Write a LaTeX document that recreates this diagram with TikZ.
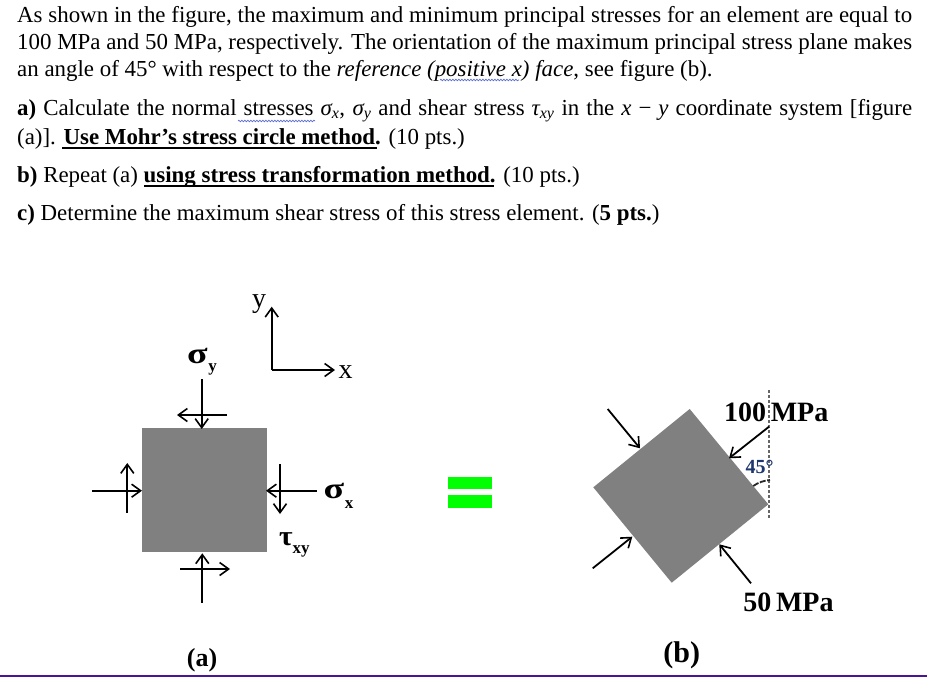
\documentclass[tikz,border=0pt]{standalone}
\usepackage{fontspec}
\setmainfont{Liberation Serif}
\usetikzlibrary{arrows.meta,decorations.pathmorphing}
\definecolor{boxgray}{RGB}{128,128,128}
\definecolor{degblue}{RGB}{30,55,110}
\definecolor{eqgreen}{RGB}{0,255,0}
\definecolor{edgeline}{RGB}{75,20,150}
\definecolor{squig}{RGB}{90,110,210}
\tikzset{
  x=1pt,y=-1pt,
  para/.style={anchor=base west,inner sep=0pt,font=\fontsize{22.9}{25}\selectfont},
  fig/.style={inner sep=0pt,font=\bfseries\fontsize{28}{30}\selectfont},
  lab/.style={inner sep=0pt,font=\fontsize{28}{30}\selectfont},
  sub/.style={inner sep=0pt,font=\bfseries\fontsize{17}{19}\selectfont},
  force/.style={-{Straight Barb[length=9pt,width=13pt,line width=1.6pt]},line width=1.8pt,black},
  rule/.style={line width=1.8pt,black},
  wavy/.style={squig,line width=.7pt,decorate,decoration={snake,amplitude=.8pt,segment length=3pt}},
}
\newcommand{\jl}[1]{\hbox to 895pt{#1}}
\begin{document}
\begin{tikzpicture}
\useasboundingbox (0,0) rectangle (927,677);
\fill[white] (0,0) rectangle (927,677);
\node[para] (l1) at (17,23) {\jl{As shown in the figure, the maximum and minimum principal stresses for an element are equal to}};
\node[para] (l2) at (17,50) {\jl{100 MPa and 50 MPa, respectively. The orientation of the maximum principal stress plane makes}};
\node[para] (l3) at (17,77) {an angle of 45° with respect to the {\itshape reference (positive x) face}, see figure (b).};
\node[para] (l4) at (17,115) {\jl{\textbf{a)} Calculate the normal stresses {\itshape σ\textsubscript{x}}, {\itshape σ\textsubscript{y}} and shear stress {\itshape τ\textsubscript{xy}} in the {\itshape x} − {\itshape y} coordinate system [figure}};
\node[para] (l5) at (17,144) {(a)]. \textbf{Use Mohr’s stress circle method.} (10 pts.)};
\node[para] (l6) at (17,182) {\textbf{b)} Repeat (a) \textbf{using stress transformation method.} (10 pts.)};
\node[para] (l7) at (17,220) {\textbf{c)} Determine the maximum shear stress of this stress element. (\textbf{5 pts.})};
\draw[rule] (62,148) -- (377,148);
\draw[rule] (144,186) -- (494,186);
\draw[wavy] (440,80) -- (519,80);
\draw[wavy] (238,121) -- (315,121);

% element (a)
\node[fill=boxgray,minimum width=125pt,minimum height=124pt,inner sep=0pt] (elemA) at (204.8,490.3) {};
\coordinate (syS) at (201.7,379); \coordinate (syE) at (201.7,429);
\coordinate (tyS) at (227,415); \coordinate (tyE) at (177,415);
\coordinate (sxlS) at (92,490.7); \coordinate (sxlE) at (142,490.7);
\coordinate (tlS) at (127.3,512.7); \coordinate (tlE) at (127.3,463);
\coordinate (sxrS) at (316.7,490.7); \coordinate (sxrE) at (266,490.7);
\coordinate (trS) at (280,464); \coordinate (trE) at (280,514);
\coordinate (sybS) at (202.3,602.7); \coordinate (sybE) at (202.3,553.3);
\coordinate (tbS) at (180,569); \coordinate (tbE) at (230,569);
\foreach \a/\b in {syS/syE,tyS/tyE,sxlS/sxlE,tlS/tlE,sxrS/sxrE,trS/trE,sybS/sybE,tbS/tbE}
  \draw[force] (\a) -- (\b);
% axes
\coordinate (org) at (271.7,370);
\coordinate (axY) at (271.7,306.7);
\coordinate (axX) at (335,370);
\draw[force] (org) -- (axY);
\draw[force] (org) -- (axX);
\node[lab] (ylab) at (259,304) {y};
\node[lab] (xlab) at (345.7,372) {x};
\node[fig] (sy) at (197.5,356) {\scalebox{1.35}[1.05]{σ}};
\node[sub] (syb) at (212.5,369) {y};
\node[fig] (sx) at (334,491) {\scalebox{1.35}[1.05]{σ}};
\node[sub] (sxb) at (349,505) {x};
\node[fig] (tau) at (286,539) {\scalebox{1.05}[1]{τ}};
\node[sub] (tauxy) at (301,551) {xy};
\node[fig,font=\bfseries\fontsize{26}{28}\selectfont] (capa) at (202,660.5) {(a)};

% equals
\fill[eqgreen] (447.7,476.7) rectangle (492.3,489.3);
\fill[eqgreen] (447.7,495) rectangle (492.3,507.7);

% element (b)
\coordinate (c1) at (689.7,409); \coordinate (c2) at (768.3,504.3);
\coordinate (c3) at (671.7,582.7); \coordinate (c4) at (593.3,487.3);
\fill[boxgray] (c1) -- (c2) -- (c3) -- (c4) -- cycle;
\coordinate (dT) at (769,390); \coordinate (dB) at (769,518.3);
\draw[black!60,line width=1.2pt,dash pattern=on 3pt off 2pt] (dT) -- (dB);
\coordinate (a1S) at (607.7,409); \coordinate (a1E) at (640,448.3);
\coordinate (a2S) at (769,426.7); \coordinate (a2E) at (729,458.3);
\coordinate (a3S) at (592.7,568.3); \coordinate (a3E) at (632.3,536.7);
\coordinate (a4S) at (751,583.3); \coordinate (a4E) at (719.3,544.3);
\foreach \a/\b in {a1S/a1E,a2S/a2E,a3S/a3E,a4S/a4E}
  \draw[force] (\a) -- (\b);
\coordinate (arcS) at (753.3,486); \coordinate (arcE) at (770,480);
\draw[black!85,line width=1.8pt,dash pattern=on 6pt off 1.5pt] (arcS) .. controls (758,482.5) and (764,480.5) .. (arcE);
\node[inner sep=0pt,text=degblue,font=\bfseries\fontsize{20}{22}\selectfont] (deg) at (759.5,467) {45°};
\node[fig] (m100) at (776.2,412) {100\,MPa};
\node[fig] (m50) at (788.5,602.7) {50\,MPa};
\node[fig,font=\bfseries\fontsize{30}{32}\selectfont] (capb) at (681.7,655.5) {(b)};
% bottom rule
\draw[edgeline,line width=1.4pt] (0,675.8) -- (927,675.8);
\end{tikzpicture}
\end{document}
